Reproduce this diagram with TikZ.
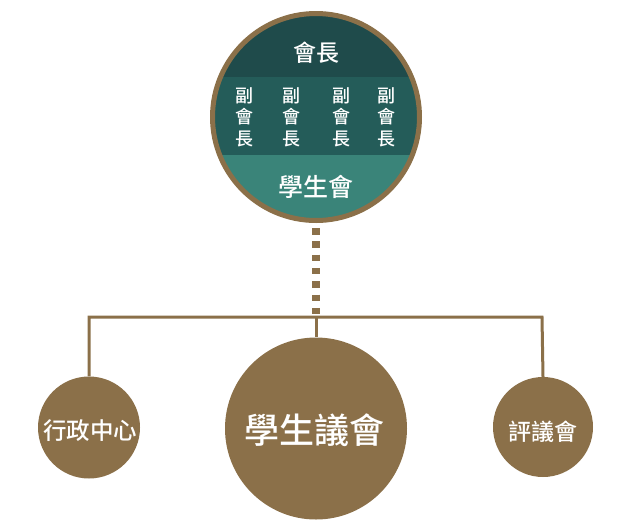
\documentclass[tikz,border=0pt]{standalone}
\usepackage{fontspec}
\newfontfamily\cjk{Noto Sans CJK TC Medium}
\definecolor{brownc}{HTML}{8B7049}
\definecolor{gtop}{HTML}{1F4B4B}
\definecolor{gmid}{HTML}{245C59}
\definecolor{gbot}{HTML}{3A8479}
\tikzset{
  lbl/.style={text=white, inner sep=0pt, font=\cjk},
  vp/.style={lbl, align=center, font=\cjk\fontsize{18}{21.5}\selectfont},
  link/.style={draw=brownc, line width=3pt},
  unit/.style={circle, fill=brownc, inner sep=0pt, minimum size=#1}
}
\begin{document}
\begin{tikzpicture}[x=1pt,y=-1pt]
\useasboundingbox (0,0) rectangle (640,528);
% top circle
\coordinate (tc) at (316,117);
\begin{scope}
  \clip (tc) circle (104);
  \fill[gtop] (200,0) rectangle (440,77);
  \fill[gmid] (200,77) rectangle (440,155);
  \fill[gbot] (200,155) rectangle (440,240);
\end{scope}
\node[circle, draw=brownc, line width=5pt, minimum size=207pt, inner sep=0pt] (top) at (tc) {};
\node[lbl, font=\cjk\fontsize{23}{26}\selectfont] (pres) at (316,53) {會長};
\node[vp] (vp1) at (244,117) {副\\會\\長};
\node[vp] (vp2) at (291,117) {副\\會\\長};
\node[vp] (vp3) at (341,117) {副\\會\\長};
\node[vp] (vp4) at (386,117) {副\\會\\長};
\node[lbl, font=\cjk\fontsize{25}{28}\selectfont] (su) at (316,187) {學生會};
% bottom circles
\node[unit=102pt] (left) at (89,427.5) {};
\node[unit=182pt] (mid) at (316,428.5) {};
\node[unit=100pt] (right) at (543,427) {};
\node[lbl, font=\cjk\fontsize{23.5}{26}\selectfont] at (90,431) {行政中心};
\node[lbl, font=\cjk\fontsize{35}{40}\selectfont] at (314,430) {學生議會};
\node[lbl, font=\cjk\fontsize{23}{26}\selectfont] at (543,432) {評議會};
% connectors
\coordinate (j) at (316,317);
\coordinate (jl) at (89,317);
\coordinate (jr) at (542,317);
\draw[draw=brownc, line width=7.5pt, dash pattern=on 6.5pt off 6.8pt] (316,228) -- (316,314);
\draw[link] (left.north) -- (jl) -- (jr) -- (right.north);
\draw[link] (j) -- (mid.north);
\end{tikzpicture}
\end{document}
